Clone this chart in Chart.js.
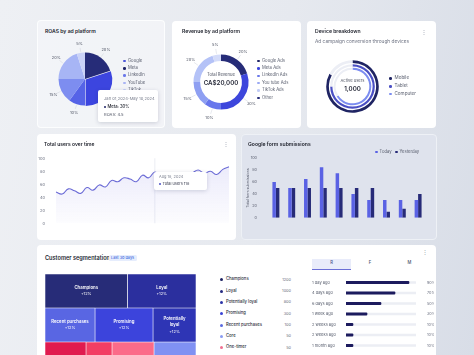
<!DOCTYPE html>
<html><head><meta charset="utf-8">
<script src="https://cdn.jsdelivr.net/npm/chart.js@4.4.1/dist/chart.umd.min.js"></script>
<style>
html,body{margin:0;padding:0;}
body{width:474px;height:355px;overflow:hidden;position:relative;background:linear-gradient(100deg,#eef0f4 0%,#e6e9ef 55%,#d8dde7 100%);font-family:Inter,"Noto Sans",sans-serif;color:#232633;}
.card{position:absolute;background:#fff;border-radius:4px;}
.t{position:absolute;white-space:nowrap;line-height:1;z-index:5;}
.dot{position:absolute;border-radius:50%;z-index:5;}
canvas{position:absolute;z-index:2;}
.tip{position:absolute;background:#fff;border-radius:2px;box-shadow:0 1px 4px rgba(30,40,80,0.18);z-index:8;}
</style></head>
<body>
<div class="card" style="left:37px;top:20px;width:128px;height:108px;background:rgba(245,247,250,0.7);border:0.5px solid rgba(255,255,255,0.8);box-sizing:border-box"></div>
<div class="card" style="left:172px;top:21px;width:129px;height:107px"></div>
<div class="card" style="left:307px;top:21px;width:129px;height:107px"></div>
<div class="card" style="left:37px;top:134px;width:199px;height:106px"></div>
<div class="card" style="left:241px;top:134px;width:196px;height:106px;background:#dfe3ed;border:0.8px solid #eef1f6;box-sizing:border-box"></div>
<div class="card" style="left:37px;top:245px;width:399px;height:120px"></div>

<canvas id="pie" width="82" height="88" style="left:37px;top:36px"></canvas>
<canvas id="donut" width="98" height="90" style="left:172px;top:36px"></canvas>
<canvas id="rings" width="66" height="62" style="left:320px;top:56px"></canvas>
<canvas id="line" width="199" height="106" style="left:37px;top:134px"></canvas>
<canvas id="bars" width="195" height="106" style="left:241px;top:134px"></canvas>
<canvas id="tree" width="151" height="102" style="left:44.5px;top:274px"></canvas>
<canvas id="rfm" width="124" height="84" style="left:310px;top:272px"></canvas>

<script>
// ---------- DATA ----------
const roasPlatforms = ['Google','Meta','LinkedIn','YouTube','TikTok','Other'];
const roasShare = [20,30,10,15,20,5];
const revenuePlatforms = ['Google Ads','Meta Ads','LinkedIn Ads','You tube Ads','TikTok Ads','Other'];
const revenueShare = [20,30,10,15,20,5];
const revenueTotal = 'CA$20,000';
const devices = ['Mobile','Tablet','Computer'];
const deviceShare = [83,75,66];
const activeUsers = '1,000';
const userDates = ['Aug 2','Aug 3','Aug 4','Aug 5','Aug 6','Aug 7','Aug 8','Aug 9','Aug 10','Aug 11','Aug 12','Aug 13','Aug 14','Aug 15','Aug 16','Aug 17','Aug 18','Aug 19','Aug 20','Aug 21','Aug 22','Aug 23','Aug 24','Aug 25','Aug 26','Aug 27','Aug 28','Aug 29','Aug 30'];
const totalUsers = [48,45,53,50,46,55,51,59,56,66,64,70,68,64,74,70,79,73,76,72,77,74,77,82,77,80,75,83,87];
const userTicks = [0,20,40,60,80,100];
const hours = ['9am','10am','11am','12pm','1pm','2pm','3pm','4pm','5pm','6pm'];
const todaySubs = [60,50,65,85,75,40,30,30,30,30];
const yesterdaySubs = [50,50,50,50,50,50,50,10,15,40];
const treeRow1Names = ['Champions','Loyal'];
const treeRow1Size = [83,69];
const treeRow2Names = ['Recent purchases','Promising','Potentially\nloyal'];
const treeRow2Size = [50,58,43];
const treeRow3Names = [null,null,null,null];
const treeRow3Size = [41,26,42,42];
const treeChange = '+12%';
const segmentNames = ['Champions','Loyal','Potentially loyal','Promising','Recent purchases','Core','One-timer'];
const segmentCounts = [1200,1000,800,300,100,50,50];
const recencyLabels = ['1 day ago','4 days ago','6 days ago','1 week ago','2 weeks ago','2 weeks ago','1 month ago'];
const recencyPct = [90,70,50,30,10,10,10];

// ---------- helpers ----------
function T(x,y,s,size,color,weight,align){
  const d=document.createElement('div');d.className='t';d.textContent=s;
  d.style.left=x+'px';d.style.top=(y-size*0.55)+'px';d.style.fontSize=size+'px';
  d.style.color=color;d.style.fontWeight=weight||400;
  if(align==='center')d.style.transform='translateX(-50%)';
  if(align==='right')d.style.transform='translateX(-100%)';
  document.body.appendChild(d);return d;
}
function D(x,y,r,color){
  const d=document.createElement('div');d.className='dot';
  d.style.left=(x-r)+'px';d.style.top=(y-r)+'px';d.style.width=(2*r)+'px';d.style.height=(2*r)+'px';d.style.background=color;
  document.body.appendChild(d);return d;
}
function pad(cw,ch,cx,cy,size){return {left:cx-size/2,right:cw-cx-size/2,top:cy-size/2,bottom:ch-cy-size/2};}

Chart.defaults.font.family='Inter, "Noto Sans", sans-serif';
Chart.defaults.animation=false;
Chart.defaults.events=[];
Chart.defaults.plugins.legend.display=false;
Chart.defaults.plugins.tooltip.enabled=false;
Chart.defaults.color='#6b7080';

const sliceLabels={id:'sliceLabels',afterDatasetsDraw(chart,args,opts){
  const c=chart.ctx;const meta=chart.getDatasetMeta(0);const ds=chart.data.datasets[0];
  c.save();c.font='4px Inter';c.fillStyle='#4d5262';c.textAlign='center';c.textBaseline='middle';
  meta.data.forEach((arc,i)=>{
    const p=arc.getProps(['x','y','startAngle','endAngle','outerRadius'],true);
    const a=(p.startAngle+p.endAngle)/2;
    c.strokeStyle='#cfd3dd';c.lineWidth=0.5;c.beginPath();
    c.moveTo(p.x+Math.cos(a)*(p.outerRadius+1),p.y+Math.sin(a)*(p.outerRadius+1));
    c.lineTo(p.x+Math.cos(a)*(p.outerRadius+opts.dist-4),p.y+Math.sin(a)*(p.outerRadius+opts.dist-4));c.stroke();
    c.fillText(ds.data[i]+'%',p.x+Math.cos(a)*(p.outerRadius+opts.dist),p.y+Math.sin(a)*(p.outerRadius+opts.dist));
  });c.restore();
}};

// ROAS pie
new Chart(document.getElementById('pie'),{type:'pie',
  data:{labels:roasPlatforms,datasets:[{data:roasShare,backgroundColor:['#262c78','#3c45df','#5563e7','#7d8df0','#a7b5f5','#cad2f7'],borderWidth:0,offset:[0,3,0,0,0,0]}]},
  options:{responsive:false,layout:{padding:pad(82,88,48,43,56)},plugins:{sliceLabels:{dist:9}}},plugins:[sliceLabels]});

// Revenue donut
new Chart(document.getElementById('donut'),{type:'doughnut',
  data:{labels:revenuePlatforms,datasets:[{data:revenueShare,backgroundColor:['#262c78','#3d46dc','#6877ec','#8e9ff2','#b4c2f7','#d3dbf9'],borderWidth:0}]},
  options:{responsive:false,cutout:'76%',layout:{padding:pad(98,90,49,46,55)},plugins:{sliceLabels:{dist:10}}},plugins:[sliceLabels]});

// Device rings
const ringColors=['#1f2463','#4a4fc4','#7b8cf0'];const ringWeights=[2.7,2.2,2.0];
const ringSets=[];
deviceShare.forEach((v,i)=>{
  if(i>0)ringSets.push({data:[1],backgroundColor:['rgba(0,0,0,0)'],borderWidth:0,weight:1.3});
  ringSets.push({data:[v,100-v],backgroundColor:[ringColors[i],'#eceef5'],borderWidth:0,weight:ringWeights[i]});
});
new Chart(document.getElementById('rings'),{type:'doughnut',data:{labels:['a','b'],datasets:ringSets},
  options:{responsive:false,cutout:'64%',layout:{padding:pad(66,62,32.5,30.5,52.6)}}});

// Line chart
const hoverIdx=userDates.indexOf('Aug 18');
const crosshair={id:'crosshair',beforeDatasetsDraw(chart){
  const x=chart.scales.x.getPixelForValue(hoverIdx);const a=chart.chartArea;const c=chart.ctx;
  c.save();c.strokeStyle='#e2e4ec';c.lineWidth=0.7;c.beginPath();c.moveTo(x,a.top);c.lineTo(x,a.bottom);c.stroke();c.restore();
}};
new Chart(document.getElementById('line'),{type:'line',
  data:{labels:userDates,datasets:[{data:totalUsers,borderColor:'#6b6bd6',borderWidth:1.1,tension:0.45,pointRadius:0,fill:true,
    backgroundColor:(ctx)=>{const ch=ctx.chart;const a=ch.chartArea;if(!a)return 'rgba(0,0,0,0)';
      const g=ch.ctx.createLinearGradient(0,a.top,0,a.bottom);g.addColorStop(0,'rgba(120,116,228,0.16)');g.addColorStop(1,'rgba(120,116,228,0.02)');return g;}}]},
  options:{responsive:false,layout:{padding:{left:0,right:7,top:24.3,bottom:6.7}},
    scales:{
      x:{grid:{display:false},border:{display:false},ticks:{autoSkip:false,maxRotation:0,padding:3,font:{size:4},color:'#6b7080',
          callback:(v,i)=>(i>=2&&(i-2)%4===0)?userDates[i]:''},afterFit:s=>{s.height=10;}},
      y:{min:0,max:100,grid:{display:false},border:{display:false},
         afterBuildTicks:s=>{s.ticks=userTicks.map(v=>({value:v}));},
         ticks:{padding:3,font:{size:4},color:'#6b7080'},afterFit:s=>{s.width=19;}}
    }},plugins:[crosshair]});

// Bar chart
new Chart(document.getElementById('bars'),{type:'bar',
  data:{labels:hours,datasets:[
    {label:'Today',data:todaySubs,backgroundColor:'#5a62e4',barPercentage:1,categoryPercentage:0.44},
    {label:'Yesterday',data:yesterdaySubs,backgroundColor:'#272b78',barPercentage:1,categoryPercentage:0.44}]},
  options:{responsive:false,layout:{padding:{left:5,right:10,top:24.3,bottom:12.3}},
    scales:{
      x:{grid:{display:false},border:{display:false},ticks:{padding:3,font:{size:3.8},color:'#5d6272'},afterFit:s=>{s.height=10;}},
      y:{min:0,max:100,grid:{display:false},border:{display:false},ticks:{stepSize:20,padding:3,font:{size:3.8},color:'#5d6272'},
         title:{display:true,text:'Total form submissions',font:{size:3.6},color:'#4d5262',padding:0},afterFit:s=>{s.width=22;}}
    }}});

// Treemap as stacked horizontal bars
const treeRows=[treeRow1Size,treeRow2Size,treeRow3Size];
const treeNames=[treeRow1Names,treeRow2Names,treeRow3Names];
const treeColors=[['#272c78','#2b2f9e'],['#5966e3','#3c44dc','#2e35b5'],['#e01b4f','#f23e64','#fb6b89','#8091f3']];
const treeSets=[];
for(let k=0;k<4;k++){
  treeSets.push({data:treeRows.map(r=>r[k]!=null?r[k]/r.reduce((a,b)=>a+b,0)*100:null),
    backgroundColor:treeColors.map(c=>c[k]||'#fff'),borderColor:'#ffffff',borderWidth:0.6,borderSkipped:false,
    barPercentage:1,categoryPercentage:1});
}
const treeLabels={id:'treeLabels',afterDatasetsDraw(chart){
  const c=chart.ctx;c.save();c.fillStyle='#fff';c.textAlign='center';c.textBaseline='middle';
  chart.data.datasets.forEach((ds,k)=>{
    chart.getDatasetMeta(k).data.forEach((el,j)=>{
      const name=treeNames[j][k];if(!name)return;
      const cx=(el.x+el.base)/2;
      const all=name.split('\n').concat([treeChange]);const n=all.length;
      all.forEach((ln,i)=>{c.font=(i<n-1)?'600 4.3px Inter':'400 4px Inter';
        c.fillText(ln,cx,el.y+(i-(n-1)/2)*6.3);});
    });
  });c.restore();
}};
new Chart(document.getElementById('tree'),{type:'bar',
  data:{labels:['r1','r2','r3'],datasets:treeSets},
  options:{responsive:false,indexAxis:'y',layout:{padding:0},
    scales:{x:{stacked:true,min:0,max:100,display:false},y:{stacked:true,display:false}}},plugins:[treeLabels]});

// Recency bars
new Chart(document.getElementById('rfm'),{type:'bar',
  data:{labels:recencyLabels,datasets:[
    {data:recencyPct,backgroundColor:'#1c1b5e',barThickness:2.4,borderRadius:1,grouped:false},
    {data:recencyLabels.map(()=>100),backgroundColor:'#eceef4',barThickness:2,borderRadius:1,grouped:false}]},
  options:{responsive:false,indexAxis:'y',layout:{padding:{left:2,right:0,top:2.4,bottom:2.9}},
    scales:{
      x:{min:0,max:100,display:false},
      y:{grid:{display:false},border:{display:false},ticks:{crossAlign:'far',font:{size:4},color:'#555b6b',padding:0},afterFit:s=>{s.width=34;}},
      y2:{type:'category',labels:recencyPct.map(v=>v+'%'),position:'right',offset:true,grid:{display:false},border:{display:false},
          ticks:{font:{size:3.8},color:'#6b7080',padding:3},afterFit:s=>{s.width=18;}}
    }}});

// ---------- text & legends ----------
const TC='#22252f',G='#5b6070';
T(45,32,'ROAS by ad platform',5.1,TC,600);
const pieDots=['#4d58d9','#1f2566','#6b79ea','#a9b5f4','#c5cef7'];
roasPlatforms.slice(0,5).forEach((n,i)=>{D(124.5,61+i*7.3,1.3,pieDots[i]);T(128,61+i*7.3,n,4.2,G,400);});

T(182,32,'Revenue by ad platform',5.1,TC,600);
const donutDots=['#1f2566','#3d46dc','#6a78ea','#9aa9f3','#c1ccf7','#262c78'];
revenuePlatforms.forEach((n,i)=>{D(258.5,61+i*7.4,1.3,donutDots[i]);T(262,61+i*7.4,n,4.2,G,400);});
T(221,75.5,'Total Revenue',4.2,'#4d5262',400,'center');
T(221,83.5,revenueTotal,6.2,'#1d2030',600,'center');

T(315,32,'Device breakdown',5.1,TC,600);
T(315,41.5,'Ad campaign conversion through devices',4.8,'#6d7282',400);
T(424,32,'⋮',6,'#9a9fae',400,'center');
T(352.5,81,'Active users',4.1,'#4d5262',400,'center');
T(352.5,89,activeUsers,6.2,'#1d2030',600,'center');
const devDots=['#1f2463','#4a4fc4','#7b8cf0'];
devices.forEach((n,i)=>{D(390.5,78.5+i*7.8,1.3,devDots[i]);T(394.5,78.5+i*7.8,n,4.6,G,400);});

T(44,144.5,'Total users over time',5,TC,600);
T(226,144,'⋮',6,'#9a9fae',400,'center');

T(248,144.5,'Google form submissions',5.1,TC,600);
D(376.5,152,1.2,'#5a62e4');T(379.5,152,'Today',4.2,G,400);
D(396.5,152,1.2,'#272b78');T(399.5,152,'Yesterday',4.2,G,400);

T(45,259,'Customer segmentation',5.6,TC,600);
const badge=T(108.5,258.8,'Last 30 days',3.8,'#3d6be0',500);
badge.style.background='#e6edfd';badge.style.padding='1.5px 2.5px';badge.style.borderRadius='1.5px';badge.style.top='254.5px';
T(425,252.5,'⋮',6,'#9a9fae',400,'center');
const segDots=['#1e2363','#252a80','#2c34a8','#3a44d6','#5c6be0','#8b9cf2','#f07090'];
segmentNames.forEach((n,i)=>{const y=279.7+i*11.35;D(221,y,1.5,segDots[i]);T(226,y,n,4.2,'#2b2e3a',500);T(291,y,String(segmentCounts[i]),3.9,'#6b7080',400,'right');});

// tabs
const tab=document.createElement('div');tab.style.cssText='position:absolute;left:312px;top:259px;width:39px;height:9.5px;background:#e9ecfa;border-bottom:0.9px solid #6b6fd6;z-index:3';document.body.appendChild(tab);
T(331.5,263.6,'R',4.2,'#4b4f8a',500,'center');
T(370,263.6,'F',4.2,'#4b4f6a',500,'center');
T(409.3,263.6,'M',4.2,'#4b4f6a',500,'center');

// tooltips
const tip1=document.createElement('div');tip1.className='tip';tip1.style.cssText+='left:98px;top:90px;width:60px;height:32px;';document.body.appendChild(tip1);
T(104,98.8,'Jan 01,2024-May 10,2024',4.1,'#7a7f8e',400).style.zIndex=9;
D(105,107.3,1.1,'#1f2566').style.zIndex=9;T(107.5,107.3,'Meta: 30%',4.2,'#22252f',500).style.zIndex=9;
T(104,115.3,'ROAS: 4.5',4.1,'#4d5262',400).style.zIndex=9;

const tip2=document.createElement('div');tip2.className='tip';tip2.style.cssText+='left:154px;top:171.7px;width:53px;height:18.5px;';document.body.appendChild(tip2);
T(159,177.3,'Aug 18, 2024',3.9,'#7a7f8e',400).style.zIndex=9;
D(160,184.3,1,'#4a4fc4').style.zIndex=9;T(162.5,184.3,'Total users 118',3.9,'#33364a',400).style.zIndex=9;
</script>
</body></html>
